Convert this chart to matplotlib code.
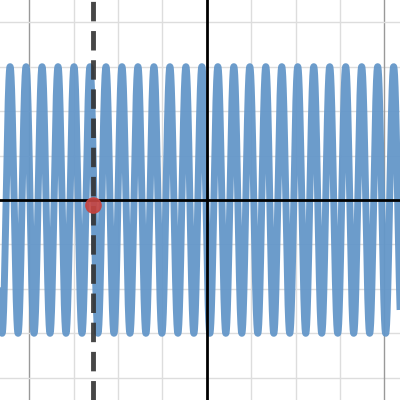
import numpy as np
import matplotlib.pyplot as plt

AMPLITUDE = 3.0
PERIOD = 0.36
PEAK_X = -0.113
POINT_X = [-2.57]
POINT_Y = [-0.11]

fig = plt.figure(figsize=(4, 4), dpi=100)
ax = fig.add_axes([0, 0, 1, 1])
ax.set_xlim(-4.66, 4.35)
ax.set_ylim(-4.5, 4.5)

for v in np.arange(-4, 5, 1):
    c = "#999999" if abs(v) == 4 else "#dddddd"
    ax.axvline(v, color=c, lw=1, zorder=0)
    ax.axhline(v, color="#dddddd", lw=1, zorder=0)

x = np.linspace(-4.66, 4.35, 4000)
y = AMPLITUDE * np.cos(2 * np.pi * (x - PEAK_X) / PERIOD)
ax.plot(x, y, color="#6497c9", lw=5, alpha=0.95, zorder=2)

ax.axvline(0, color="black", lw=2, zorder=2.5)
ax.axhline(0, color="black", lw=2, zorder=2.5)

ax.axvline(POINT_X[0], color="#333333", lw=3.5, ls=(0, (4, 2)), alpha=0.9, zorder=3)
ax.plot(POINT_X, POINT_Y, "o", color="#c74440", ms=11, alpha=0.9, zorder=4)

ax.set_xticks([])
ax.set_yticks([])
for s in ax.spines.values():
    s.set_visible(False)
fig.savefig("out.png", dpi=100)
